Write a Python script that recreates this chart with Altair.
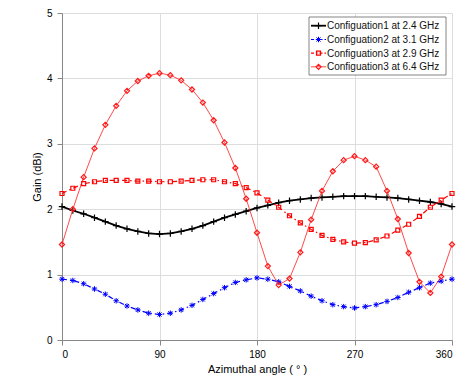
import altair as alt
import pandas as pd

# Azimuthal sweep, one sample every 10 degrees
angles = list(range(0, 361, 10))

series_names = [
    "Configuation1 at 2.4 GHz",
    "Configuation2 at 3.1 GHz",
    "Configuation3 at 2.9 GHz",
    "Configuation3 at 6.4 GHz",
]

gain_cfg1_24 = [2.04, 1.98, 1.93, 1.87, 1.81, 1.75, 1.70, 1.66, 1.63, 1.62,
                1.63, 1.66, 1.70, 1.75, 1.81, 1.87, 1.92, 1.97, 2.02, 2.06,
                2.10, 2.13, 2.15, 2.17, 2.18, 2.19, 2.20, 2.20, 2.20, 2.19,
                2.18, 2.17, 2.15, 2.13, 2.11, 2.08, 2.04]

gain_cfg2_31 = [0.93, 0.91, 0.86, 0.78, 0.70, 0.60, 0.52, 0.46, 0.41, 0.39,
                0.41, 0.46, 0.53, 0.62, 0.71, 0.80, 0.88, 0.92, 0.95, 0.93,
                0.89, 0.82, 0.75, 0.67, 0.60, 0.54, 0.51, 0.49, 0.51, 0.54,
                0.59, 0.65, 0.73, 0.80, 0.87, 0.90, 0.93]

gain_cfg3_29 = [2.24, 2.32, 2.39, 2.42, 2.44, 2.44, 2.44, 2.43, 2.43, 2.42,
                2.42, 2.43, 2.44, 2.45, 2.45, 2.42, 2.39, 2.33, 2.25, 2.14,
                2.03, 1.90, 1.79, 1.69, 1.60, 1.54, 1.50, 1.48, 1.49, 1.53,
                1.59, 1.68, 1.77, 1.89, 2.03, 2.14, 2.24]

gain_cfg3_64 = [1.46, 2.00, 2.49, 2.93, 3.29, 3.58, 3.81, 3.96, 4.04, 4.08,
                4.05, 3.97, 3.83, 3.63, 3.36, 3.02, 2.63, 2.16, 1.64, 1.13,
                0.84, 0.94, 1.34, 1.84, 2.28, 2.58, 2.75, 2.81, 2.75, 2.65,
                2.28, 1.85, 1.33, 0.89, 0.72, 0.97, 1.46]

all_gains = [gain_cfg1_24, gain_cfg2_31, gain_cfg3_29, gain_cfg3_64]

rows = []
for name, gains in zip(series_names, all_gains):
    for a, g in zip(angles, gains):
        rows.append({"series": name, "angle": a, "gain": g})
df = pd.DataFrame(rows)
legend_df = pd.DataFrame({"series": series_names})

FONT = "Liberation Sans"

plus_path = "M-1,0L1,0M0,-1L0,1"
star_path = "M-1,0L1,0M0,-1L0,1M-0.75,-0.75L0.75,0.75M-0.75,0.75L0.75,-0.75"

styles = [
    dict(color="#000000", width=1.8, dash=None, shape=plus_path, size=42, mwidth=1.2),
    dict(color="#0000ff", width=1.2, dash=[5, 3, 1.5, 3], shape=star_path, size=30, mwidth=1.0),
    dict(color="#ff0000", width=1.2, dash=[5, 3, 1.5, 3], shape="square", size=16, mwidth=1.2),
    dict(color="#ff1a1a", width=0.8, dash=None, shape="diamond", size=26, mwidth=1.2),
]

x_enc = alt.X(
    "angle:Q",
    scale=alt.Scale(domain=[0, 360], nice=False),
    axis=alt.Axis(values=[0, 90, 180, 270, 360], title="Azimuthal angle ( ° )",
                  labelPadding=4, titlePadding=4, titleFontWeight="normal"),
)
y_enc = alt.Y(
    "gain:Q",
    scale=alt.Scale(domain=[0, 5], nice=False),
    axis=alt.Axis(values=[0, 1, 2, 3, 4, 5], title="Gain (dBi)",
                  labelPadding=5, titlePadding=4, titleFontWeight="normal"),
)

layers = []
for name, st in zip(series_names, styles):
    base = alt.Chart(df).transform_filter(alt.datum.series == name).encode(x=x_enc, y=y_enc)
    line_kw = dict(color=st["color"], strokeWidth=st["width"])
    if st["dash"]:
        line_kw["strokeDash"] = st["dash"]
    layers.append(base.mark_line(**line_kw))
    layers.append(base.mark_point(shape=st["shape"], filled=False, size=st["size"],
                                  color=st["color"], strokeWidth=st["mwidth"], opacity=1))

# Legend box in the upper right corner of the plot area
layers.append(
    alt.Chart(legend_df).transform_filter(alt.datum.series == series_names[0])
    .mark_rect(fill="white", stroke="#666666", strokeWidth=0.8)
    .encode(x=alt.value(247), x2=alt.value(384), y=alt.value(4), y2=alt.value(62))
)
row_y = [12.7, 26.5, 40.2, 53.8]
for name, st, yy in zip(series_names, styles, row_y):
    leg = alt.Chart(legend_df).transform_filter(alt.datum.series == name)
    rule_kw = dict(color=st["color"], strokeWidth=st["width"])
    if st["dash"]:
        rule_kw["strokeDash"] = [3, 2, 1.5, 2]
    layers.append(leg.mark_rule(**rule_kw).encode(
        x=alt.value(249), x2=alt.value(264), y=alt.value(yy)))
    layers.append(leg.mark_point(shape=st["shape"], filled=False, size=st["size"],
                                 color=st["color"], strokeWidth=st["mwidth"], opacity=1)
                  .encode(x=alt.value(256.5), y=alt.value(yy)))
    layers.append(leg.mark_text(align="left", baseline="middle", font=FONT, fontSize=10,
                                color="#111111")
                  .encode(x=alt.value(265), y=alt.value(yy + 0.5), text="series:N"))

chart = (
    alt.layer(*layers)
    .properties(width=390, height=327, autosize="none",
                padding={"left": 62, "top": 13, "right": 22, "bottom": 49})
    .configure_axis(
        labelFont=FONT, labelFontSize=11, labelColor="#333333",
        titleFont=FONT, titleFontSize=12, titleFontWeight="normal", titleColor="#333333",
        grid=True, gridDash=[1, 2], gridColor="#b5b5b5", gridWidth=0.8,
        domainColor="#8c8c8c", ticks=False,
    )
    .configure_view(stroke="#8c8c8c", strokeWidth=1)
    .configure(background="white")
)

chart.save("out.html", embed_options={"renderer": "svg", "actions": False})
